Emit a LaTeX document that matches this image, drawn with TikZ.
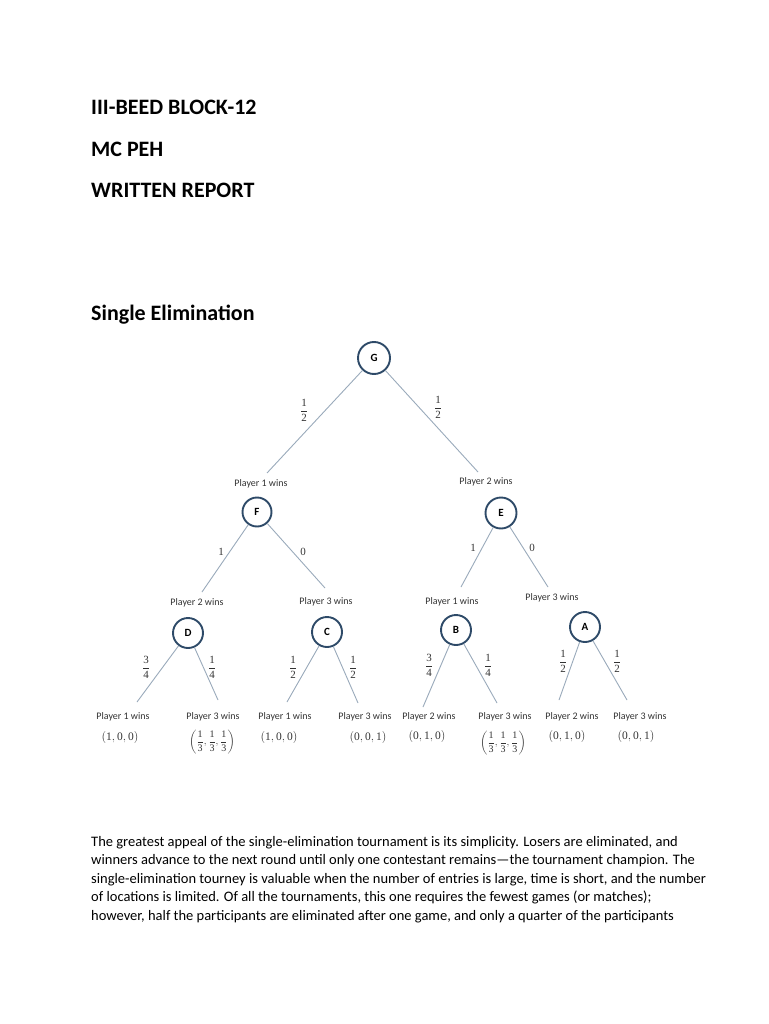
\documentclass[tikz,border=0pt]{standalone}
\usepackage{fontspec}
\setmainfont{Liberation Serif}
\newfontfamily\calib{Carlito}
\definecolor{edgecol}{HTML}{9AAABB}
\definecolor{ringcol}{HTML}{2E4A68}
\definecolor{labcol}{HTML}{333333}
\tikzset{
  title/.style={anchor=base west,font=\calib\bfseries\fontsize{22}{26}\selectfont,inner sep=0pt},
  para/.style={anchor=base west,font=\calib\fontsize{14.5}{17}\selectfont,inner sep=0pt},
  ring/.style={circle,draw=ringcol,line width=1.9pt,minimum size=30pt,inner sep=0pt,font=\calib\bfseries\fontsize{11}{13}\selectfont},
  edge/.style={draw=edgecol,line width=0.9pt},
  plab/.style={font=\calib\fontsize{10}{12}\selectfont,text=labcol,inner sep=0pt},
  prob/.style={font=\fontsize{11}{13}\selectfont,text=labcol,inner sep=0pt},
  tup/.style={font=\fontsize{11.5}{13}\selectfont,text=labcol,inner sep=0pt}
}
\newcommand{\fr}[2]{$\displaystyle\frac{\hbox{#1}}{\hbox{#2}}$}
\newcommand{\tri}[3]{$(\hbox{#1},\hbox{#2},\hbox{#3})$}
\newcommand{\thirds}{{\fontsize{10}{12}\selectfont$\left(\displaystyle\frac{\hbox{1}}{\hbox{3}},\frac{\hbox{1}}{\hbox{3}},\frac{\hbox{1}}{\hbox{3}}\right)$}}
\begin{document}
\begin{tikzpicture}[x=1pt,y=-1pt]
\useasboundingbox (0,0) rectangle (768,1024);
\fill[white] (0,0) rectangle (768,1024);
% titles
\node[title] (t1) at (91,115) {III-BEED BLOCK-12};
\node[title] (t2) at (91,157) {MC PEH};
\node[title] (t3) at (91,198) {WRITTEN REPORT};
\node[title] (t4) at (91,320) {Single Elimination};
% circles
\node[ring,minimum size=32pt] (G) at (374,358) {G};
\node[ring,minimum size=29pt] (F) at (257,512) {F};
\node[ring,minimum size=31pt] (E) at (501,513) {E};
\node[ring] (D) at (188,633) {D};
\node[ring] (C) at (327,632) {C};
\node[ring] (B) at (456,630) {B};
\node[ring] (A) at (585,627) {A};
% edge ends
\coordinate (gl) at (267,473); \coordinate (gr) at (478,472);
\coordinate (fl) at (202,592); \coordinate (frr) at (325,588);
\coordinate (el) at (461,587); \coordinate (er) at (548,587);
\coordinate (dl) at (137,702); \coordinate (dr) at (218,700);
\coordinate (cl) at (287,702); \coordinate (cr) at (358,703);
\coordinate (bl) at (423,707); \coordinate (br) at (497,703);
\coordinate (al) at (559,700); \coordinate (ar) at (627,700);
\draw[edge] (G) -- (gl); \draw[edge] (G) -- (gr);
\draw[edge] (F) -- (fl); \draw[edge] (F) -- (frr);
\draw[edge] (E) -- (el); \draw[edge] (E) -- (er);
\draw[edge] (D) -- (dl); \draw[edge] (D) -- (dr);
\draw[edge] (C) -- (cl); \draw[edge] (C) -- (cr);
\draw[edge] (B) -- (bl); \draw[edge] (B) -- (br);
\draw[edge] (A) -- (al); \draw[edge] (A) -- (ar);
% probabilities
\node[prob] (pg1) at (304,410) {\fr12};
\node[prob] (pg2) at (438,407) {\fr12};
\node[prob] (pf1) at (221,552) {1};
\node[prob] (pf2) at (303,552) {0};
\node[prob] (pe1) at (473,548) {1};
\node[prob] (pe2) at (532,548) {0};
\node[prob] (pd1) at (146,667) {\fr34};
\node[prob] (pd2) at (212,667) {\fr14};
\node[prob] (pc1) at (293,667) {\fr12};
\node[prob] (pc2) at (353,667) {\fr12};
\node[prob] (pb1) at (429,665) {\fr34};
\node[prob] (pb2) at (488,665) {\fr14};
\node[prob] (pa1) at (563,661) {\fr12};
\node[prob] (pa2) at (617,661) {\fr12};
% player labels
\node[plab] (lf) at (261,484) {Player 1 wins};
\node[plab] (le) at (486,482) {Player 2 wins};
\node[plab] (ld) at (197,603) {Player 2 wins};
\node[plab] (lc) at (326,602) {Player 3 wins};
\node[plab] (lb) at (452,602) {Player 1 wins};
\node[plab] (la) at (552,598) {Player 3 wins};
\node[plab] (l1) at (123,717) {Player 1 wins};
\node[plab] (l2) at (213,717) {Player 3 wins};
\node[plab] (l3) at (285,717) {Player 1 wins};
\node[plab] (l4) at (365,717) {Player 3 wins};
\node[plab] (l5) at (429,717) {Player 2 wins};
\node[plab] (l6) at (505,717) {Player 3 wins};
\node[plab] (l7) at (572,717) {Player 2 wins};
\node[plab] (l8) at (640,717) {Player 3 wins};
% payoffs
\node[tup] (u1) at (120,737) {\tri100};
\node[tup] (u2) at (212,742) {\thirds};
\node[tup] (u3) at (279,737) {\tri100};
\node[tup] (u4) at (368,737) {\tri001};
\node[tup] (u5) at (427,736) {\tri010};
\node[tup] (u6) at (503,743) {\thirds};
\node[tup] (u7) at (567,736) {\tri010};
\node[tup] (u8) at (636,736) {\tri001};
% paragraph
\node[para] (p1) at (91,846) {The greatest appeal of the single-elimination tournament is its simplicity. Losers are eliminated, and};
\node[para] (p2) at (91,864.5) {winners advance to the next round until only one contestant remains\textemdash the tournament champion. The};
\node[para] (p3) at (91,883) {single-elimination tourney is valuable when the number of entries is large, time is short, and the number};
\node[para] (p4) at (91,901.5) {of locations is limited. Of all the tournaments, this one requires the fewest games (or matches);};
\node[para] (p5) at (91,920) {however, half the participants are eliminated after one game, and only a quarter of the participants};
\end{tikzpicture}
\end{document}
